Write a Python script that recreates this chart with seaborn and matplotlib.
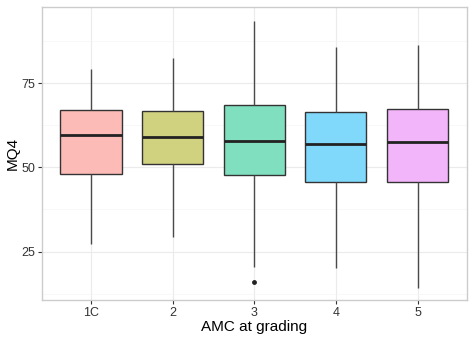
import numpy as np
import pandas as pd
import matplotlib
matplotlib.use("Agg")
import matplotlib.pyplot as plt
import matplotlib.colors as mcolors
import seaborn as sns

categories = ["1C", "2", "3", "4", "5"]
whisker_low = [27.1, 29.3, 20.3, 20.1, 14.2]
q1 = [48.0, 51.0, 47.6, 45.7, 45.6]
median = [59.6, 59.0, 57.8, 56.8, 57.4]
q3 = [67.1, 66.6, 68.5, 66.4, 67.4]
whisker_high = [79.1, 82.6, 93.5, 85.8, 86.2]
outlier_cat = ["3"]
outlier_val = [15.9]
colors = ["#F8766D", "#A3A500", "#00BF7D", "#00B0F6", "#E76BF3"]

rows = []
for c, a, b, m, d, e in zip(categories, whisker_low, q1, median, q3, whisker_high):
    for v in (a, b, m, d, e):
        rows.append({"AMC": c, "MQ4": v})
df = pd.DataFrame(rows)

sns.set_theme(style="white")
plt.rcParams["font.family"] = ["Liberation Sans", "DejaVu Sans"]

fig = plt.figure(figsize=(4.74, 3.39), dpi=100)
ax = fig.add_axes([42 / 474, 1 - 300 / 339, (466.5 - 42) / 474, (300 - 7) / 339])

def blend(col, a=0.5):
    r, g, b = mcolors.to_rgb(col)
    return (1 - a + a * r, 1 - a + a * g, 1 - a + a * b)

pal = {c: blend(col) for c, col in zip(categories, colors)}
sns.boxplot(data=df, x="AMC", y="MQ4", order=categories, hue="AMC", palette=pal,
            legend=False, whis=np.inf, width=0.75, ax=ax, saturation=1,
            linecolor="#333333", linewidth=1.0, showcaps=False,
            whiskerprops=dict(color="#4a4a4a"),
            medianprops=dict(color="#222222", linewidth=2.0), zorder=3)

sns.stripplot(x=outlier_cat, y=outlier_val, order=categories, color="#222222",
              size=3.5, jitter=False, ax=ax, zorder=4)

ax.set_xlim(-0.6, 4.6)
ax.set_ylim(10.6, 97.6)
ax.set_yticks([25, 50, 75])
ax.set_yticks([12.5, 37.5, 62.5, 87.5], minor=True)
ax.grid(True, which="major", color="#EBEBEB", linewidth=0.8, zorder=0)
ax.grid(True, which="minor", color="#F5F5F5", linewidth=0.5, zorder=0)
ax.set_axisbelow(True)
for s in ax.spines.values():
    s.set_color("#CCCCCC")
    s.set_linewidth(1.0)
ax.tick_params(axis="both", which="major", length=3, width=0.8, color="#333333",
               labelcolor="#333333", labelsize=9, pad=2, direction="out",
               bottom=True, left=True)
ax.tick_params(axis="y", which="minor", length=0)
ax.set_xlabel("AMC at grading", fontsize=11, color="black", labelpad=1)
ax.set_ylabel("MQ4", fontsize=11, color="black", labelpad=1)

fig.savefig("out.png", dpi=100)
